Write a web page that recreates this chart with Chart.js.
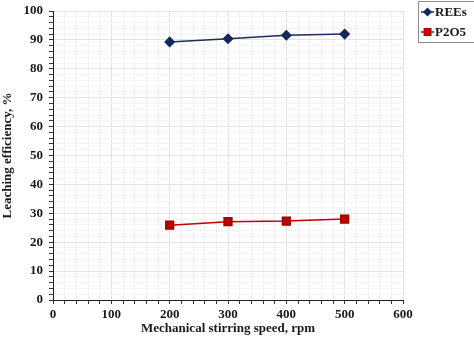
<!DOCTYPE html>
<html>
<head>
<meta charset="utf-8">
<script src="https://cdn.jsdelivr.net/npm/chart.js@4"></script>
<style>
    html, body { margin: 0; padding: 0; background: #ffffff; }
    #wrap { width: 474px; height: 344px; position: relative; }
</style>
</head>
<body>
<div id="wrap"><canvas id="chart"></canvas></div>
<script>
const speeds = [200, 300, 400, 500]
const reeValues = [89.3, 90.4, 91.6, 92.0]
const p2o5Values = [25.9, 27.1, 27.3, 28.0]
const seriesLabels = ["REEs", "P2O5"]

const xTitle = "Mechanical stirring speed, rpm"
const yTitle = "Leaching efficiency, %"

const tickFont = { family: "'Liberation Serif', serif", size: 13, weight: "bold" }
const titleFont = { family: "'Liberation Serif', serif", size: 13, weight: "bold" }

const toPoints = (xs, ys) => xs.map((x, i) => ({ x, y: ys[i] }))

// legend box drawn in the top right corner, like the original
const boxLegend = {
    id: "boxLegend",
    afterDraw: (chart) => {
        const ctx = chart.ctx
        const left = 418
        const top = 1
        ctx.save()
        ctx.fillStyle = "#ffffff"
        ctx.fillRect(left, top, 60, 41)
        ctx.strokeStyle = "#8c8c8c"
        ctx.lineWidth = 1
        ctx.strokeRect(left + 0.5, top + 0.5, 60, 41)
        chart.data.datasets.forEach((ds, i) => {
            const y = 12 + i * 20
            ctx.strokeStyle = ds.borderColor
            ctx.lineWidth = 1.5
            ctx.beginPath()
            ctx.moveTo(421, y)
            ctx.lineTo(434, y)
            ctx.stroke()
            Chart.helpers.drawPoint(ctx, {
                pointStyle: ds.pointStyle,
                radius: ds.pointStyle === "rect" ? 4.5 : 3.5,
                borderWidth: 1,
            }, 427.5, y)
            ctx.fillStyle = ds.pointBackgroundColor
            ctx.fill()
            ctx.fillStyle = "#1a1a1a"
            ctx.font = "bold 13px 'Liberation Serif', serif"
            ctx.textBaseline = "middle"
            ctx.fillText(ds.label, 435, y + 1)
        })
        ctx.restore()
    },
}

const config = {
    type: "line",
    data: {
        datasets: [
            {
                label: seriesLabels[0],
                data: toPoints(speeds, reeValues),
                borderColor: "#1c2d5a",
                backgroundColor: "#1c2d5a",
                pointBackgroundColor: "#14285a",
                pointBorderColor: "#14285a",
                pointStyle: "rectRot",
                pointRadius: 4.5,
                borderWidth: 1.5,
            },
            {
                label: seriesLabels[1],
                data: toPoints(speeds, p2o5Values),
                borderColor: "#c00000",
                backgroundColor: "#c00000",
                pointBackgroundColor: "#c00000",
                pointBorderColor: "#a00000",
                pointStyle: "rect",
                pointRadius: 5.5,
                borderWidth: 1.5,
            },
        ],
    },
    options: {
        responsive: true,
        maintainAspectRatio: false,
        animation: false,
        layout: {
            padding: { top: 11, right: 71, left: 0, bottom: 8 },
        },
        plugins: {
            legend: { display: false },
            tooltip: { enabled: false },
        },
        scales: {
            x: {
                type: "linear",
                min: 0,
                max: 600,
                ticks: {
                    stepSize: 20,
                    color: "#1a1a1a",
                    font: tickFont,
                    padding: 3,
                    maxRotation: 0,
                    autoSkip: false,
                    callback: (value) => (value % 100 === 0 ? value : ""),
                },
                border: { display: true, color: "#222222", width: 1 },
                grid: {
                    drawOnChartArea: true,
                    tickLength: 4,
                    tickColor: "#333333",
                    color: (ctx) => {
                        if (ctx.tick && ctx.tick.value % 100 === 0) return "#e2e2e2"
                        return "#f0f0f0"
                    },
                },
                title: {
                    display: true,
                    text: xTitle,
                    color: "#1a1a1a",
                    font: titleFont,
                    padding: { top: 2, bottom: 0 },
                },
                afterFit: (scale) => {
                    scale.height = 36
                    scale.paddingLeft = 0
                    scale.paddingRight = 0
                },
            },
            y: {
                min: 0,
                max: 100,
                ticks: {
                    stepSize: 2,
                    color: "#1a1a1a",
                    font: tickFont,
                    padding: 6,
                    autoSkip: false,
                    callback: (value) => (value % 10 === 0 ? value : ""),
                },
                border: { display: true, color: "#222222", width: 1 },
                grid: {
                    drawOnChartArea: true,
                    tickLength: 4,
                    tickColor: "#333333",
                    color: (ctx) => {
                        if (ctx.tick && ctx.tick.value % 10 === 0) return "#e4e4e4"
                        return "#f4f4f4"
                    },
                },
                title: {
                    display: true,
                    text: yTitle,
                    color: "#1a1a1a",
                    font: titleFont,
                    padding: { top: 0, bottom: 4 },
                },
                afterFit: (scale) => {
                    scale.width = 53
                    scale.paddingTop = 0
                    scale.paddingBottom = 0
                },
            },
        },
    },
    plugins: [boxLegend],
}

const chart = new Chart(document.getElementById("chart"), config)
</script>
</body>
</html>
